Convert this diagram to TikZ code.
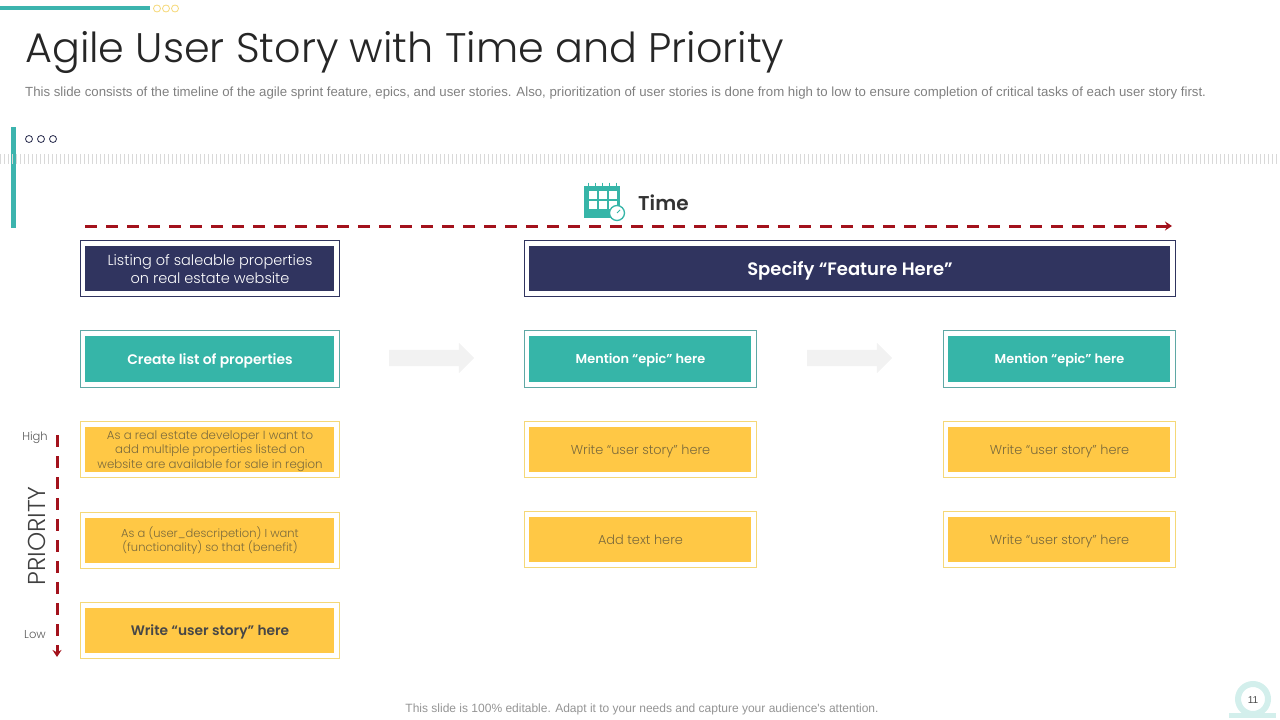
\documentclass[tikz,border=0pt]{standalone}
\usepackage{fontspec}
\usepackage{xcolor}
\setmainfont{Poppins Light}[BoldFont={Poppins SemiBold}]
\newfontfamily\slidefont{Liberation Sans}
\newcommand\linedrop{\rule{0pt}{1.02em}}
\usetikzlibrary{shapes}
\usetikzlibrary{shapes.arrows}
\usetikzlibrary{arrows.meta}
\usetikzlibrary{positioning}
\definecolor{navy}{HTML}{30345F}
\definecolor{teal}{HTML}{36B5A8}
\definecolor{barteal}{HTML}{3CB4AE}
\definecolor{sun}{HTML}{FFC845}
\definecolor{sunline}{HTML}{F5D877}
\definecolor{tealline}{HTML}{5FA8A5}
\definecolor{darkred}{HTML}{A3121C}
\definecolor{storytext}{HTML}{7B6A3C}
\tikzset{
	inset fill/.style={path picture={\fill[#1] ([shift={(5,-5.5)}]path picture bounding box.south west)
			rectangle ([shift={(-5.5,5.5)}]path picture bounding box.north east);}},
	inset box/.style={line width=0.8pt,fill=white,inner sep=0pt,align=center,
		execute at begin node={\rule[-0.25em]{0pt}{1.25em}}},
	navy box/.style={inset box,draw=navy,inset fill=navy,minimum height=56.5,text=white},
	epic box/.style={inset box,draw=tealline,inset fill=teal,minimum height=57.5,text=white,font=\fontsize{12.9}{16}\selectfont\bfseries},
	story box/.style={inset box,draw=sunline,inset fill=sun,minimum height=56.5,text=storytext,font=\fontsize{12.9}{16}\selectfont},
	flow arrow/.style={single arrow,fill=black!5,draw=none,inner sep=8pt,minimum height=85,
		single arrow head extend=7pt,single arrow head indent=0pt},
	red dash/.style={darkred,line width=3pt,dash pattern=on 12pt off 9pt,-{Stealth[length=7pt,width=9pt]}},
	hollow dot/.style={circle,draw=#1,line width=0.8pt,minimum size=7,inner sep=0pt}
}
\begin{document}
\begin{tikzpicture}[x=1pt,y=-1pt]
	\useasboundingbox (0,0) rectangle (1280,720);
	% header decoration
	\fill[barteal] (0,6) rectangle (150,10);
	\foreach \x in {157,166,175}
		\node [hollow dot=sunline] (top\x) at (\x,8.5) {};
	\node [anchor=base west,inner sep=0pt,text=black!85,font=\fontsize{41.3}{50}\selectfont] (title) at (25,62) {Agile User Story with Time and Priority};
	\node [anchor=base west,inner sep=0pt,text=black!50,font=\slidefont\fontsize{13.24}{15}\selectfont] (subtitle) at (25,96) {This slide consists of the timeline of the agile sprint feature, epics, and user stories. Also, prioritization of user stories is done from high to low to ensure completion of critical tasks of each user story first.};
	\fill[barteal] (11,127) rectangle (16,228);
	\foreach \x in {29,41,53}
		\node [hollow dot=navy!80!black] (mid\x) at (\x,139) {};
	\foreach \x in {0,4,...,1280}
		\draw[black!15,line width=0.9pt] (\x,154) -- (\x,164);
	% time header
	\fill[teal] (584,186) rectangle (620,218);
	\foreach \x in {588,595,602,609,616}
		\draw[teal,line width=1pt] (\x,182.5) -- (\x,187);
	\foreach \x in {589,599,609}
		\foreach \y in {191,201}
			\fill[white] (\x,\y) rectangle +(8,8);
	\node [circle,draw=teal,fill=white,line width=1.3pt,minimum size=15,inner sep=0pt] (clock) at (617,213) {};
	\draw[teal,line width=0.8pt] (clock.center) -- +(3,-3);
	\node [anchor=west,inner sep=0pt,text=black!80,font=\fontsize{20}{24}\selectfont\bfseries] (time) at (638,203) {Time};
	\coordinate (timeA) at (85,226);
	\coordinate (timeB) at (1172,226);
	\draw[red dash] (timeA) -- (timeB);
	% first column
	\node [navy box,minimum width=259.5,font=\fontsize{14.5}{18}\selectfont] (listing) at (210,268.5) {\linedrop Listing of saleable properties\\on real estate website};
	\node [epic box,minimum width=259.5,font=\fontsize{13.9}{16}\selectfont\bfseries] (create) at (210,359) {Create list of properties};
	\node [story box,minimum width=259.5,font=\fontsize{11.8}{14.5}\selectfont] (story1) at (210,449.5) {\linedrop As a real estate developer I want to\\add multiple properties listed on\\website are available for sale in region};
	\node [story box,minimum width=259.5,font=\fontsize{11.5}{14}\selectfont] (story2) at (210,540.5) {As a (user\_descripetion) I want\\(functionality) so that (benefit)};
	\node [story box,minimum width=259.5,text=black!72,font=\fontsize{13.8}{16}\selectfont\bfseries] (story3) at (210,630.5) {Write “user story” here};
	% second and third column
	\node [navy box,minimum width=651.5,font=\fontsize{18}{20}\selectfont\bfseries] (feature) at (850,268.5) {Specify “Feature Here”};
	\node [epic box,minimum width=232.5] (epicA) at (640.5,359) {Mention “epic” here};
	\node [epic box,minimum width=232.5] (epicB) at (1059.5,359) {Mention “epic” here};
	\node [story box,minimum width=232.5] (storyA) at (640.5,449.5) {Write “user story” here};
	\node [story box,minimum width=232.5] (storyB) at (1059.5,449.5) {Write “user story” here};
	\node [story box,minimum width=232.5] (storyC) at (640.5,539.5) {Add text here};
	\node [story box,minimum width=232.5] (storyD) at (1059.5,539.5) {Write “user story” here};
	\node [flow arrow] (flowA) at (427.5,358) {};
	\node [flow arrow] (flowB) at (845.5,358) {};
	% priority axis
	\coordinate (prioA) at (57,435);
	\coordinate (prioB) at (57,657);
	\draw[red dash] (prioA) -- (prioB);
	\node [inner sep=0pt,text=black!65,font=\fontsize{11.5}{13}\selectfont] (high) at (35,438) {High};
	\node [inner sep=0pt,text=black!65,font=\fontsize{11.5}{13}\selectfont] (low) at (35,635) {Low};
	\node [rotate=90,inner sep=0pt,text=black!75,font=\fontsize{24.4}{26}\selectfont] (priority) at (37,536) {PRIORITY};
	% footer
	\node [inner sep=0pt,text=black!42,font=\slidefont\fontsize{12}{14}\selectfont] (footer) at (642,709.5) {This slide is 100\% editable. Adapt it to your needs and capture your audience's attention.};
	\draw[teal!22,line width=6pt] (1253,699) circle (15);
	\fill[teal!22] (1229,713) rectangle (1276,718);
	\node [inner sep=0pt,text=black!70,font=\slidefont\fontsize{10}{12}\selectfont] (page) at (1253,700) {11};
\end{tikzpicture}
\end{document}
